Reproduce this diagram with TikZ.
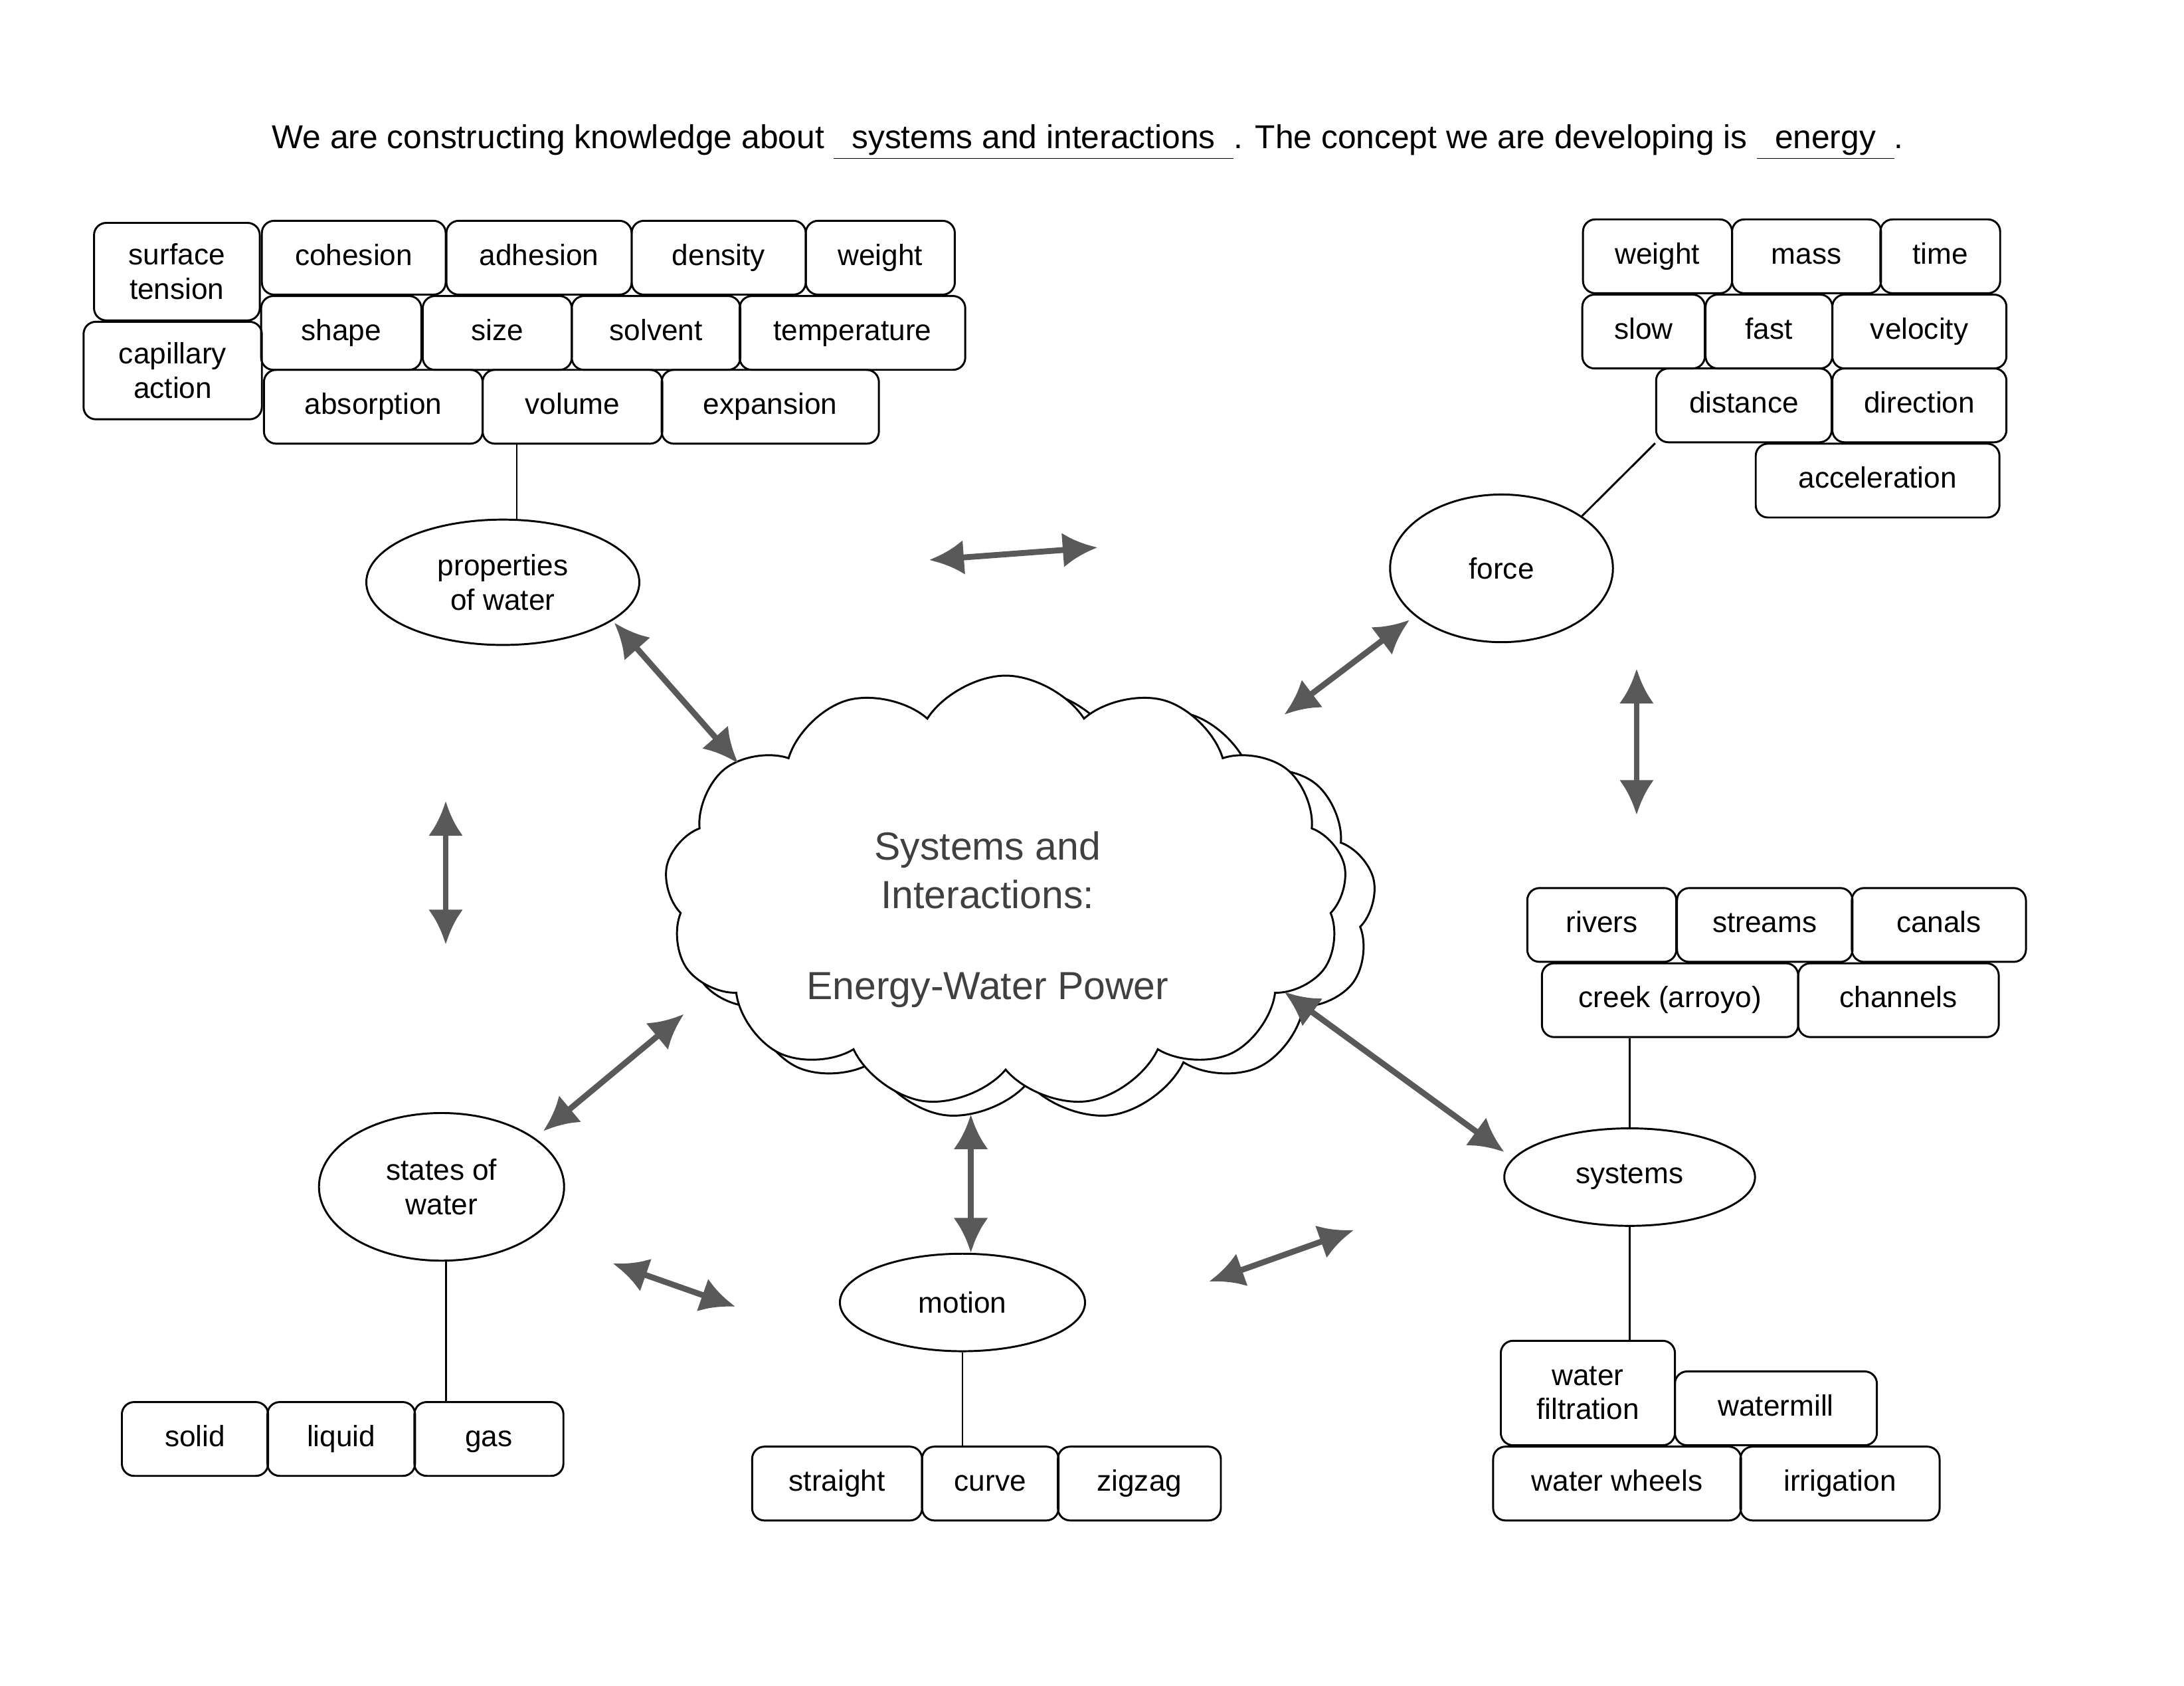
\documentclass[tikz,border=0pt]{standalone}
\usepackage{fontspec}
\setmainfont{Liberation Sans}
\usetikzlibrary{arrows.meta,shapes.symbols,shapes.geometric}

\tikzset{
  box/.style={draw, thick, rounded corners=5pt, minimum height=53*0.02cm, inner sep=1pt,
    align=center, text height=1.6ex, text depth=0.45ex, font=\fontsize{12}{14}\selectfont},
  topic/.style={draw, thick, ellipse, align=center, font=\fontsize{12}{14}\selectfont},
  link/.style={thick},
  fat/.style={line width=2.4pt, black!65,
    {Latex[length=0.5cm,width=0.5cm]}-{Latex[length=0.5cm,width=0.5cm]}}
}
% box: name, x, y, width, text
\newcommand\bx[5]{\node[box, minimum width=#4*0.02cm] (#1) at (#2,#3) {#5};}

\begin{document}
\begin{tikzpicture}[x=0.02cm, y=-0.02cm]
    \useasboundingbox (0,0) rectangle (1568,1210);
    \node[font=\fontsize{13.5}{15}\selectfont] (title) at (781,102)
      {We are constructing knowledge about \underline{\ \ systems and interactions\ \ }. The concept we are developing is \underline{\ \ energy\ \ }.};

    % properties of water
    \node[box, text height=, text depth=, minimum width=119*0.02cm, minimum height=70*0.02cm] (surf) at (127,195) {surface\\tension};
    \node[box, text height=, text depth=, minimum width=128*0.02cm, minimum height=70*0.02cm] (cap) at (124,266) {capillary\\action};
    \bx{coh}{254}{185}{132}{cohesion}
    \bx{adh}{387}{185}{133}{adhesion}
    \bx{dens}{516}{185}{125}{density}
    \bx{wtl}{632}{185}{107}{weight}
    \bx{shape}{245}{239}{115}{shape}
    \bx{size}{357}{239}{107}{size}
    \bx{solv}{471}{239}{121}{solvent}
    \bx{temp}{612}{239}{162}{temperature}
    \bx{abs}{268}{292}{157}{absorption}
    \bx{vol}{411}{292}{129}{volume}
    \bx{exp}{553}{292}{156}{expansion}
    \node[topic, minimum width=196*0.02cm, minimum height=90*0.02cm] (props) at (361,418) {properties\\of water};
    \draw[link] (vol.south -| 371,0) -- (props.north -| 371,0);

    % force
    \bx{wtr}{1190}{184}{107}{weight}
    \bx{mass}{1297}{184}{107}{mass}
    \bx{time}{1393}{184}{86}{time}
    \bx{slow}{1180}{238}{88}{slow}
    \bx{fast}{1270}{238}{91}{fast}
    \bx{velo}{1378}{238}{125}{velocity}
    \bx{dist}{1252}{291}{126}{distance}
    \bx{dir}{1378}{291}{125}{direction}
    \bx{acc}{1348}{345}{175}{acceleration}
    \node[topic, minimum width=160*0.02cm, minimum height=106*0.02cm] (force) at (1078,408) {force};
    \draw[link] (dist.south west) -- (force.33);

    % systems
    \bx{riv}{1150}{664}{107}{rivers}
    \bx{str}{1267}{664}{126}{streams}
    \bx{can}{1392}{664}{125}{canals}
    \bx{creek}{1199}{718}{184}{creek (arroyo)}
    \bx{chan}{1363}{718}{144}{channels}
    \node[topic, minimum width=180*0.02cm, minimum height=70*0.02cm] (sys) at (1170,845) {systems};
    \node[box, text height=, text depth=, minimum width=125*0.02cm, minimum height=75*0.02cm] (filt) at (1140,1000) {water\\filtration};
    \bx{mill}{1275}{1011}{145}{watermill}
    \bx{wheel}{1161}{1065}{178}{water wheels}
    \bx{irr}{1321}{1065}{143}{irrigation}
    \draw[link] (creek.south -| sys.north) -- (sys.north);
    \draw[link] (sys.south) -- (filt.north -| sys.south);

    % motion
    \node[topic, minimum width=176*0.02cm, minimum height=70*0.02cm] (motion) at (691,935) {motion};
    \bx{strt}{601}{1065}{122}{straight}
    \bx{curve}{711}{1065}{98}{curve}
    \bx{zig}{818}{1065}{117}{zigzag}
    \draw[link] (motion.south) -- (strt.north -| motion.south);

    % states of water
    \node[topic, minimum width=176*0.02cm, minimum height=106*0.02cm] (states) at (317,852) {states of\\water};
    \bx{solid}{140}{1033}{105}{solid}
    \bx{liq}{245}{1033}{106}{liquid}
    \bx{gas}{351}{1033}{107}{gas}
    \draw[link] (states.south -| 320,0) -- (gas.north -| 320,0);

    % centre cloud
    \node[cloud, draw, thick, cloud puffs=13, cloud puff arc=115, aspect=1.6,
      minimum width=500*0.02cm, minimum height=310*0.02cm] (cloudb) at (738,650) {};
    \node[cloud, draw, thick, fill=white, cloud puffs=13, cloud puff arc=115, aspect=1.6,
      minimum width=490*0.02cm, minimum height=310*0.02cm] (cloud) at (722,640) {};
    \node[align=center, text=black!75, font=\fontsize{16}{20}\selectfont] (ctext) at (709,660)
      {Systems and\\Interactions:\\[17pt]Energy-Water Power};

    % arrows
    \coordinate (a1) at (667,402); \coordinate (a2) at (788,393);
    \coordinate (p1) at (441,447); \coordinate (c1) at (530,548);
    \coordinate (q1) at (1012,445); \coordinate (c2) at (922,513);
    \coordinate (b1) at (1175,480); \coordinate (b2) at (1175,585);
    \coordinate (d1) at (320,575); \coordinate (d2) at (320,678);
    \coordinate (c3) at (491,728); \coordinate (s1) at (390,812);
    \coordinate (c4) at (922,712); \coordinate (y1) at (1080,827);
    \coordinate (c5) at (697,800);
    \coordinate (e1) at (440,907); \coordinate (e2) at (528,938);
    \coordinate (f1) at (868,920); \coordinate (f2) at (972,883);
    \draw[fat] (a1) -- (a2);
    \draw[fat] (p1) -- (c1);
    \draw[fat] (q1) -- (c2);
    \draw[fat] (b1) -- (b2);
    \draw[fat] (d1) -- (d2);
    \draw[fat] (c3) -- (s1);
    \draw[fat] (c4) -- (y1);
    \draw[fat] (c5) -- (motion.north -| c5);
    \draw[fat] (e1) -- (e2);
    \draw[fat] (f1) -- (f2);
\end{tikzpicture}
\end{document}
